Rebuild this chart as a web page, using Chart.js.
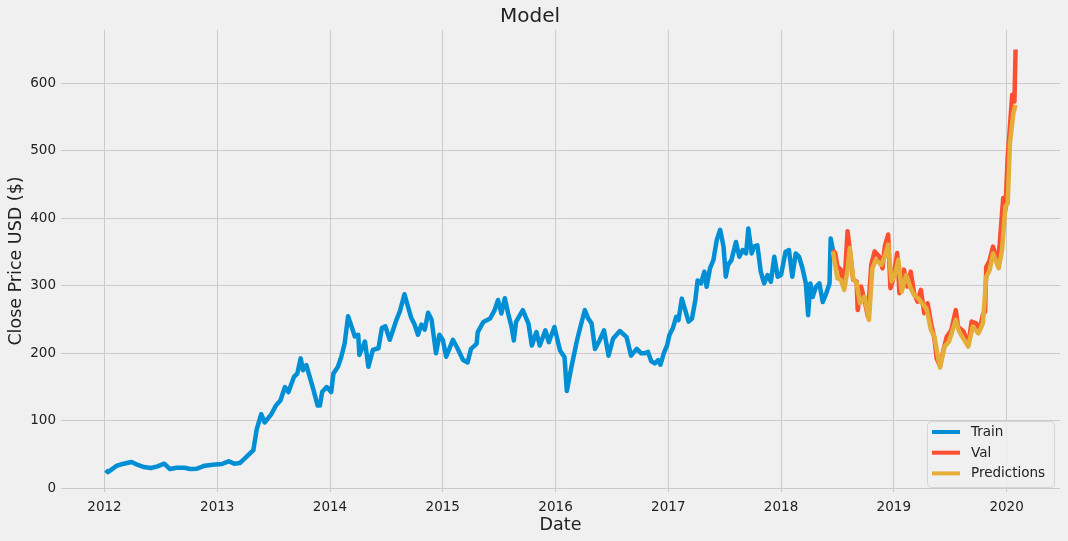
<!DOCTYPE html>
<html>
<head>
<meta charset="utf-8">
<script src="https://cdn.jsdelivr.net/npm/chart.js@4.4.1/dist/chart.umd.min.js"></script>
<style>
  html, body { margin: 0; padding: 0; background: #f0f0f0; }
  #wrap { width: 1068px; height: 541px; }
</style>
</head>
<body>
<div id="wrap"><canvas id="chart" width="1068" height="541"></canvas></div>
<script>
// dates as decimal years
const trainDates = [2012.01, 2012.03, 2012.11, 2012.16, 2012.24, 2012.29, 2012.35, 2012.41, 2012.47, 2012.53, 2012.58, 2012.64, 2012.71, 2012.76, 2012.82, 2012.89, 2012.96, 2013.04, 2013.10, 2013.15, 2013.20, 2013.24, 2013.32, 2013.35, 2013.39, 2013.42, 2013.48, 2013.52, 2013.56, 2013.60, 2013.63, 2013.68, 2013.71, 2013.74, 2013.76, 2013.79, 2013.82, 2013.85, 2013.89, 2013.91, 2013.93, 2013.97, 2014.01, 2014.03, 2014.07, 2014.10, 2014.13, 2014.16, 2014.19, 2014.22, 2014.25, 2014.26, 2014.31, 2014.34, 2014.38, 2014.43, 2014.46, 2014.49, 2014.53, 2014.59, 2014.62, 2014.66, 2014.69, 2014.72, 2014.75, 2014.78, 2014.81, 2014.84, 2014.87, 2014.90, 2014.94, 2014.97, 2015.00, 2015.03, 2015.09, 2015.13, 2015.18, 2015.22, 2015.25, 2015.30, 2015.31, 2015.36, 2015.42, 2015.46, 2015.49, 2015.52, 2015.55, 2015.58, 2015.61, 2015.63, 2015.65, 2015.71, 2015.76, 2015.79, 2015.83, 2015.86, 2015.91, 2015.94, 2015.99, 2016.04, 2016.08, 2016.10, 2016.14, 2016.19, 2016.22, 2016.26, 2016.29, 2016.32, 2016.35, 2016.39, 2016.43, 2016.47, 2016.51, 2016.57, 2016.63, 2016.67, 2016.72, 2016.76, 2016.79, 2016.82, 2016.85, 2016.88, 2016.91, 2016.93, 2016.96, 2016.99, 2017.01, 2017.04, 2017.07, 2017.09, 2017.12, 2017.15, 2017.18, 2017.21, 2017.24, 2017.26, 2017.29, 2017.32, 2017.34, 2017.37, 2017.40, 2017.43, 2017.46, 2017.49, 2017.51, 2017.53, 2017.56, 2017.60, 2017.63, 2017.66, 2017.69, 2017.71, 2017.74, 2017.76, 2017.79, 2017.82, 2017.85, 2017.88, 2017.91, 2017.94, 2017.97, 2018.00, 2018.04, 2018.07, 2018.10, 2018.13, 2018.16, 2018.19, 2018.22, 2018.24, 2018.26, 2018.28, 2018.31, 2018.34, 2018.37, 2018.40, 2018.43, 2018.44, 2018.46];
const trainClose = [27, 24, 33.5, 36, 39, 35, 31.5, 30, 32.5, 36.5, 28.5, 30.5, 30.5, 28.5, 29, 33.5, 35, 36, 40, 36.5, 37.5, 43.5, 56.5, 87.5, 110, 97.5, 110, 122.5, 130, 150, 142.5, 165, 170, 192.5, 175, 182.5, 165, 147.5, 122.5, 122.5, 142.5, 150, 142.5, 170, 180, 195, 215, 255, 240, 225, 227.5, 197.5, 217.5, 180, 205, 207.5, 237.5, 240, 220, 250, 262.5, 287.5, 270, 252.5, 242.5, 227.5, 242.5, 235, 260, 250, 200, 227.5, 220, 195, 220, 207.5, 190, 186.5, 206.5, 214, 231.5, 246.5, 251.5, 264, 279, 259, 281.5, 259, 239, 219, 246.5, 264, 244, 211.5, 231.5, 211.5, 234, 216.5, 239, 204, 194, 144, 179, 219, 239, 264, 251.5, 244, 206.5, 219, 234, 196.5, 221.5, 233, 224, 196.5, 206.5, 200, 200, 202, 188, 185, 190, 183, 200, 212, 227, 237, 254, 249, 281, 264, 247, 251.5, 279, 308, 303.5, 321, 298.5, 326, 338, 368, 383, 358, 313.5, 331, 338, 365, 343, 353, 348, 385, 348, 358, 360, 321, 303.5, 316, 306, 343, 313.5, 316, 350.5, 353, 313.5, 348, 343, 326, 303.5, 256.5, 303.5, 283.5, 298.5, 303.5, 276, 288.5, 303.5, 370, 353];

const valDates = [2018.46, 2018.48, 2018.50, 2018.53, 2018.55, 2018.57, 2018.59, 2018.61, 2018.64, 2018.67, 2018.68, 2018.71, 2018.74, 2018.77, 2018.80, 2018.83, 2018.87, 2018.90, 2018.92, 2018.95, 2018.97, 2018.99, 2019.03, 2019.05, 2019.09, 2019.12, 2019.15, 2019.18, 2019.21, 2019.24, 2019.27, 2019.30, 2019.33, 2019.36, 2019.38, 2019.41, 2019.44, 2019.47, 2019.51, 2019.55, 2019.57, 2019.62, 2019.66, 2019.69, 2019.73, 2019.76, 2019.79, 2019.81, 2019.82, 2019.85, 2019.88, 2019.92, 2019.94, 2019.97, 2019.99, 2020.01, 2020.03, 2020.05, 2020.07, 2020.08];
const valClose = [353, 348.5, 329, 324, 301.5, 324, 381, 353, 309, 306.5, 264, 299, 279, 254.5, 331, 351, 343.5, 326, 358.5, 376, 296.5, 306.5, 348.5, 289, 324, 299, 321, 289, 276.5, 294, 259.5, 274, 245, 222, 192.5, 181, 205, 225, 234.5, 264, 239.5, 232, 212, 247, 244.5, 234.5, 257, 262, 328, 338, 358, 333, 363, 430, 412.5, 491, 536, 583, 573, 650];

const predDates = [2018.46, 2018.50, 2018.53, 2018.56, 2018.59, 2018.61, 2018.64, 2018.67, 2018.70, 2018.74, 2018.78, 2018.81, 2018.84, 2018.89, 2018.92, 2018.95, 2018.98, 2019.01, 2019.04, 2019.07, 2019.11, 2019.15, 2019.18, 2019.22, 2019.25, 2019.29, 2019.33, 2019.36, 2019.38, 2019.41, 2019.45, 2019.49, 2019.55, 2019.58, 2019.66, 2019.70, 2019.75, 2019.79, 2019.82, 2019.85, 2019.88, 2019.93, 2019.96, 2019.99, 2020.01, 2020.03, 2020.06, 2020.08];
const predClose = [351, 311, 309, 294, 324, 356, 311, 304, 274, 284, 249.5, 326, 338.5, 331, 343.5, 361, 306.5, 316, 338.5, 291.5, 316, 296.5, 286.5, 281, 274, 266, 234.5, 225, 205, 179, 210, 217.5, 249.5, 232, 210, 239.5, 229.5, 244.5, 313.5, 323, 348, 326, 353, 417.5, 422, 511, 555.5, 568];

const yearTicks = [2012, 2013, 2014, 2015, 2016, 2017, 2018, 2019, 2020];
const priceTicks = [0, 100, 200, 300, 400, 500, 600];

const seriesNames = ['Train', 'Val', 'Predictions'];
const seriesColors = ['#008fd5', '#fc4f30', '#e5ae38'];

const toPoints = (xs, ys) => xs.map((x, i) => ({ x: x, y: ys[i] }));

Chart.defaults.font.family = "'DejaVu Sans', sans-serif";
Chart.defaults.color = '#222';

// background colour of the whole figure
const bgPlugin = {
  id: 'bg',
  beforeDraw(chart) {
    const ctx = chart.ctx;
    ctx.save();
    ctx.fillStyle = '#f0f0f0';
    ctx.fillRect(0, 0, chart.width, chart.height);
    ctx.restore();
  }
};

// matplotlib style legend box in the lower right
const legendPlugin = {
  id: 'mplLegend',
  afterDraw(chart) {
    const ctx = chart.ctx;
    const x0 = 927, y0 = 421, w = 127, h = 66;
    ctx.save();
    ctx.beginPath();
    ctx.roundRect(x0 + 0.5, y0 + 0.5, w, h, 4);
    ctx.fillStyle = 'rgba(240,240,240,0.8)';
    ctx.fill();
    ctx.strokeStyle = '#d6d6d6';
    ctx.lineWidth = 1;
    ctx.stroke();
    ctx.font = "13.5px 'DejaVu Sans', sans-serif";
    ctx.textBaseline = 'middle';
    ctx.fillStyle = '#222';
    seriesNames.forEach((name, i) => {
      const y = 432 + i * 20.7;
      ctx.beginPath();
      ctx.moveTo(932, y);
      ctx.lineTo(960, y);
      ctx.strokeStyle = seriesColors[i];
      ctx.lineWidth = 4;
      ctx.stroke();
      ctx.fillText(name, 971, y + 0.5);
    });
    ctx.restore();
  }
};

const lineStyle = {
  borderWidth: 4.5,
  pointRadius: 0,
  tension: 0,
  fill: false,
  borderJoinStyle: 'round',
  borderCapStyle: 'butt'
};

new Chart(document.getElementById('chart'), {
  type: 'line',
  data: {
    datasets: [
      Object.assign({ label: seriesNames[0], data: toPoints(trainDates, trainClose), borderColor: seriesColors[0], order: 3 }, lineStyle),
      Object.assign({ label: seriesNames[1], data: toPoints(valDates, valClose), borderColor: seriesColors[1], order: 2 }, lineStyle),
      Object.assign({ label: seriesNames[2], data: toPoints(predDates, predClose), borderColor: seriesColors[2], order: 1 }, lineStyle)
    ]
  },
  options: {
    responsive: false,
    animation: false,
    layout: { padding: { left: 0, right: 8, top: 0, bottom: 0 } },
    plugins: {
      legend: { display: false },
      tooltip: { enabled: false },
      title: {
        display: true,
        text: 'Model',
        color: '#222',
        font: { size: 20, weight: 'normal' },
        padding: { top: 5, bottom: 1 }
      }
    },
    scales: {
      x: {
        type: 'linear',
        min: 2011.614,
        max: 2020.474,
        afterBuildTicks: s => { s.ticks = yearTicks.map(v => ({ value: v })); },
        afterFit: s => { s.height = 49; },
        grid: { color: '#cbcbcb', lineWidth: 1, drawTicks: false },
        border: { display: false },
        ticks: { padding: 7, font: { size: 13.5 }, color: '#222', callback: v => String(v) },
        title: { display: true, text: 'Date', color: '#222', font: { size: 17.5 }, padding: { top: 0, bottom: 5 } }
      },
      y: {
        type: 'linear',
        min: -5.5,
        max: 679,
        afterBuildTicks: s => { s.ticks = priceTicks.map(v => ({ value: v })); },
        afterFit: s => { s.width = 61; },
        grid: { color: '#cbcbcb', lineWidth: 1, drawTicks: false },
        border: { display: false },
        ticks: { padding: 5, font: { size: 13.5 }, color: '#222', callback: v => String(v) },
        title: { display: true, text: 'Close Price USD ($)', color: '#222', font: { size: 17.5 }, padding: { top: 6, bottom: 0 } }
      }
    }
  },
  plugins: [bgPlugin, legendPlugin]
});
</script>
</body>
</html>
